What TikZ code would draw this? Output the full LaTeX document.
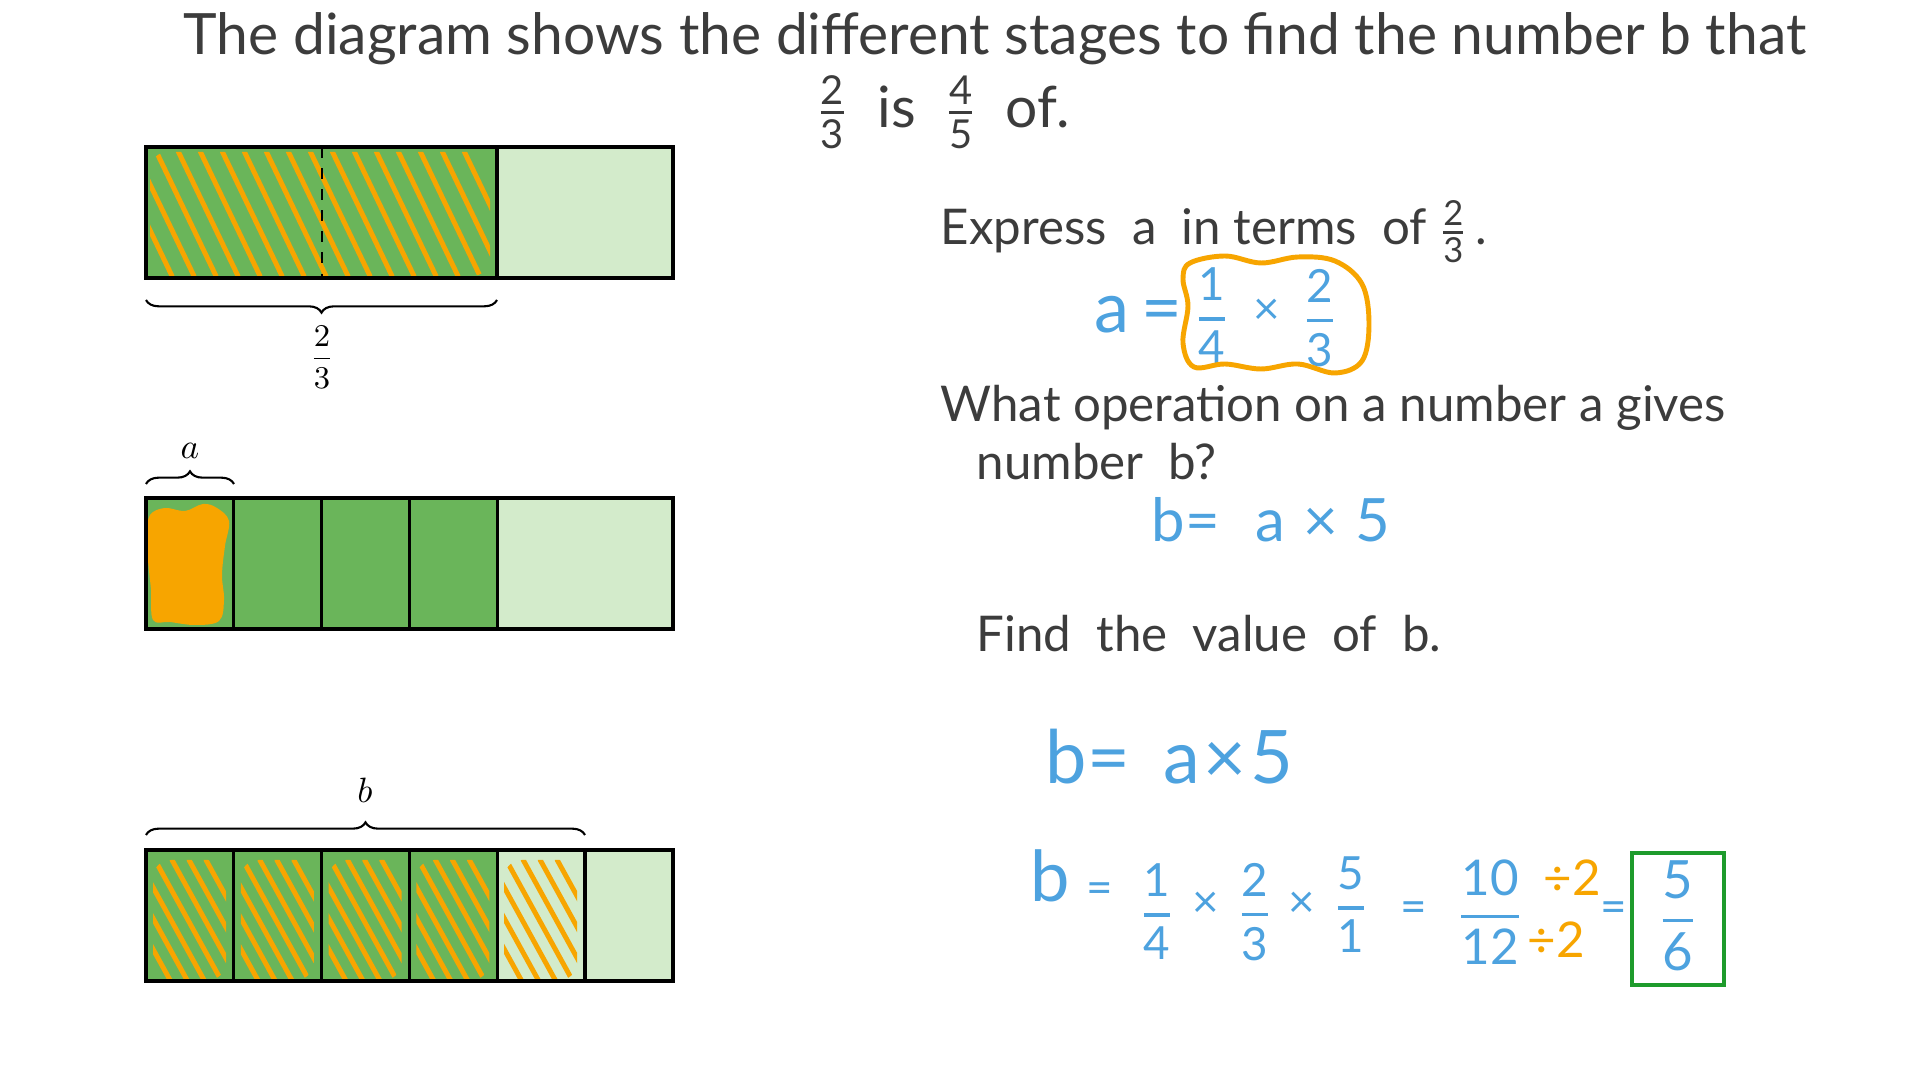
\documentclass[tikz,border=0pt]{standalone}
\usepackage{amsmath}
\usepackage[no-math]{fontspec}
\setmainfont{Lato}
\usetikzlibrary{decorations.pathreplacing}

\definecolor{bargreen}{HTML}{6AB55A}
\definecolor{barlight}{HTML}{D3EBCB}
\definecolor{hatchorange}{HTML}{F7A500}
\definecolor{penblue}{HTML}{4DA2DF}
\definecolor{pengray}{HTML}{3C3C3C}
\definecolor{boxgreen}{HTML}{1E9B2C}

\newcommand{\fr}[2]{\ensuremath{\genfrac{}{}{1pt}{0}{\text{#1}}{\text{#2}}}}
\newcommand{\tfr}[2]{\ensuremath{\genfrac{}{}{0.9pt}{1}{\text{#1}}{\text{#2}}}}

% orange strokes inside a box
\newcommand{\hatch}[6]{%
\begin{scope}
\clip[rounded corners=5pt] (#1,#2) rectangle (#3,#4);
\pgfmathsetmacro{\hstart}{#1-#6*(#4-#2)}
\pgfmathsetmacro{\hnext}{\hstart+#5}
\pgfmathsetmacro{\hend}{#3}
\foreach \s in {\hstart,\hnext,...,\hend}
  \draw[scribble] (\s,#2) -- ++({#6*(#4-#2)},{#4-#2});
\end{scope}}

\tikzset{
  outline/.style={black,line width=0.9pt},
  scribble/.style={hatchorange,line width=1.4pt,line cap=round},
  braceup/.style={decorate,decoration={brace,amplitude=3.6pt},line width=0.6pt},
  bracedown/.style={decorate,decoration={brace,amplitude=3.6pt,mirror},line width=0.6pt},
  txt/.style={anchor=base west,inner sep=0pt,text=pengray,font=\fontsize{14}{16}\selectfont},
  pen/.style={inner sep=0pt,text=penblue},
}

\begin{document}
\begin{tikzpicture}[x=0.01cm,y=-0.01cm]
\useasboundingbox[fill=white] (0,0) rectangle (1920,1080);
\def\w{87.8}

% title
\node[txt,anchor=base,font=\fontsize{16.2}{18}\selectfont] (title1) at (995,55) {The diagram shows the different stages to find the number b that};
\node[txt,anchor=base,font=\fontsize{16.2}{18}\selectfont] (title2) at (943,128) {\tfr{2}{3}\ \ is\ \ \tfr{4}{5}\ \ of.};

% bar of thirds
\fill[bargreen] (146,147) rectangle (497,278);
\fill[barlight] (497,147) rectangle (673,278);
\hatch{150}{152}{490}{276}{22}{0.48}
\draw[black,dashed,line width=0.8pt] (322,147) -- (322,278);
\draw[outline] (146,147) rectangle (673,278);
\draw[outline] (497,147) -- (497,278);
\draw[bracedown] (146,300) -- (497,300);
\node[inner sep=0pt] (twothirds) at (322,357) {\fontsize{9}{10}\selectfont$\dfrac{2}{3}$};

% bar of quarters
\fill[bargreen] (146,498) rectangle (497,629);
\fill[barlight] (497,498) rectangle (673,629);
\fill[hatchorange] plot[smooth cycle,tension=0.6] coordinates {(150,515) (165,508) (185,511) (203,504) (217,508) (229,521) (225,546) (222,575) (224,600) (219,621) (195,625) (170,622) (153,620) (151,590) (148,560) (147,535)};
\foreach \i in {1,...,4}
  \draw[outline] (146+\i*\w,498) -- (146+\i*\w,629);
\draw[outline] (146,498) rectangle (673,629);
\draw[braceup] (146,484) -- (234,484);
\node[inner sep=0pt] (alabel) at (190,451) {\fontsize{10}{12}\selectfont$a$};

% bar of sixths
\fill[bargreen] (146,850) rectangle (497,981);
\fill[barlight] (497,850) rectangle (673,981);
\foreach \i in {0,...,4}
  \hatch{146+\i*\w+7}{860}{146+\i*\w+80}{980}{17}{0.55}
\foreach \i in {1,...,5}
  \draw[outline] (146+\i*\w,850) -- (146+\i*\w,981);
\draw[outline] (146,850) rectangle (673,981);
\draw[braceup] (146,835) -- (585,835);
\node[inner sep=0pt] (blabel) at (365,790) {\fontsize{10}{12}\selectfont$b$};

% questions
\node[txt] (q1) at (940,245) {Express\ \ a\ \ in terms\ \ of \tfr{2}{3}\,.};
\node[txt] (q2) at (940,422) {What operation on a number a gives};
\node[txt] (q3) at (976,480) {number\ \ b?};
\node[txt] (q4) at (976,652) {Find\ \ the\ \ value\ \ of\ \ b.};

% a in terms of 2/3
\node[pen,anchor=base west,font=\fontsize{20}{22}\selectfont] (aeq) at (1094,333) {a\,=};
\node[pen,font=\fontsize{13}{15}\selectfont] (aone) at (1212,316) {\fr{1}{4}};
\node[pen,font=\fontsize{13}{15}\selectfont] (atimes) at (1267,312) {×};
\node[pen,font=\fontsize{13}{15}\selectfont] (atwo) at (1320,318) {\fr{2}{3}};
\draw[hatchorange,line width=1.4pt] plot[smooth cycle,tension=0.6] coordinates {(1190,263) (1225,256) (1261,263) (1298,257) (1335,261) (1362,284) (1369,324) (1362,361) (1335,373) (1298,364) (1261,369) (1225,364) (1194,367) (1183,343) (1188,306) (1183,279)};

% b from a
\node[pen,anchor=base west,font=\fontsize{17}{19}\selectfont] (beqone) at (1151,542) {b=\hspace{0.6em}a\hspace{0.3em}×\hspace{0.3em}5};
\node[pen,anchor=base west,font=\fontsize{21}{23}\selectfont] (beqtwo) at (1045,784) {b=\hspace{0.45em}a\hspace{0.05em}×\hspace{0.05em}5};

% value of b
\node[pen,anchor=base west,font=\fontsize{20}{22}\selectfont] (bb) at (1030,902) {b};
\node[pen,font=\fontsize{13}{15}\selectfont] (eqa) at (1100,893) {=};
\node[pen,font=\fontsize{13}{15}\selectfont] (fa) at (1157,912) {\fr{1}{4}};
\node[pen,font=\fontsize{13}{15}\selectfont] (xa) at (1206,905) {×};
\node[pen,font=\fontsize{13}{15}\selectfont] (fb) at (1255,912) {\fr{2}{3}};
\node[pen,font=\fontsize{13}{15}\selectfont] (xb) at (1302,905) {×};
\node[pen,font=\fontsize{13}{15}\selectfont] (fc) at (1351,905) {\fr{5}{1}};
\node[pen,font=\fontsize{13}{15}\selectfont] (eqb) at (1414,912) {=};
\node[pen,font=\fontsize{14}{16}\selectfont] (fd) at (1490,912) {\fr{10}{12}};
\node[inner sep=0pt,text=hatchorange,font=\fontsize{14}{16}\selectfont] (dtop) at (1572,878) {÷2};
\node[inner sep=0pt,text=hatchorange,font=\fontsize{14}{16}\selectfont] (dbot) at (1556,940) {÷2};
\node[pen,font=\fontsize{13}{15}\selectfont] (eqc) at (1614,912) {=};
\node[pen,font=\fontsize{15}{17}\selectfont] (fe) at (1678,916) {\fr{5}{6}};
\draw[boxgreen,line width=1.3pt] (1632,853) rectangle (1724,985);
\end{tikzpicture}
\end{document}
